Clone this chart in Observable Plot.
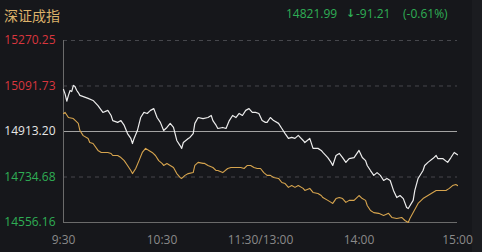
<!DOCTYPE html>
<html>
<head>
<meta charset="utf-8">
<script src="https://cdn.jsdelivr.net/npm/d3@7"></script>
<script src="https://cdn.jsdelivr.net/npm/@observablehq/plot@0.6"></script>
<style>
  html, body { margin:0; padding:0; }
  body { width:482px; height:252px; background:#16171b; position:relative; overflow:hidden; font-family:"Open Sans", "Noto Sans", sans-serif; }
  #panel { position:absolute; left:472px; top:0; width:10px; height:252px; background:#1b1c20; }
  #title { position:absolute; left:4px; top:5px; font-family:"Noto Sans CJK SC", sans-serif; font-size:14px; color:#dcb26a; line-height:20px; }
  .hd { position:absolute; top:5px; font-size:12px; color:#2fae55; line-height:18px; white-space:nowrap; }
  #chart { position:absolute; left:0; top:28px; }
</style>
</head>
<body>
<div id="panel"></div>
<div id="title"></div>
<span class="hd" id="last" style="left:286px"></span>
<span class="hd" id="arrow" style="left:346px;font-family:'DejaVu Sans';font-weight:bold;font-size:11px"></span>
<span class="hd" id="chg" style="left:356px"></span>
<span class="hd" id="pct" style="left:403px"></span>
<div id="chart"></div>
<script>
// ---- data ----
const titleText = "深证成指";
const lastPrice = "14821.99";
const changeText = "-91.21";
const pctText = "(-0.61%)";
const prevClose = 14913.20;
const yTicks = [15270.25, 15091.73, 14913.20, 14734.68, 14556.16];
const xTickMinutes = [0, 60, 120, 180, 240];
const xTickLabels = ["9:30", "10:30", "11:30/13:00", "14:00", "15:00"];

// index price (minute since open, value)
const priceMin = [0,1,2,3,4,5,6,7,8,9,10,15,18,21,24,27,29,30,33,35,37,39,41,42,43,45,47,49,51,53,55,57,59,61,63,65,67,69,71,72,73,76,77,79,80,82,85,88,90,91,93,94,97,99,101,103,105,107,109,111,113,115,117,119,121,123,124,126,128,131,133,135,137,139,141,143,146,147,150,152,155,157,158,161,163,164,166,168,170,172,174,177,180,182,184,185,187,189,191,193,195,197,199,201,203,205,207,209,210,213,214,216,219,220,222,225,227,228,231,234,236,238,240];
const priceVal = [15078,15060,15032,15055,15074,15070,15094,15090,15075,15066,15055,15043,15035,15015,14988,14996,14976,14956,14949,14956,14937,14905,14886,14866,14886,14917,14968,14988,14984,14996,15003,14968,14949,14917,14929,14945,14929,14878,14858,14847,14870,14886,14890,14905,14945,14968,14964,14968,14976,14956,14937,14925,14929,14925,14956,14976,14968,14984,14976,14996,15003,14988,14988,14984,14956,14949,14949,14968,14956,14945,14925,14905,14886,14890,14886,14898,14878,14870,14886,14847,14847,14839,14831,14811,14792,14780,14819,14827,14811,14792,14807,14811,14839,14811,14799,14780,14760,14741,14752,14741,14721,14729,14721,14682,14654,14662,14650,14615,14611,14643,14682,14729,14760,14780,14792,14807,14819,14807,14807,14792,14811,14831,14822];

// average price line (minute since open, value)
const avgMin = [0,1,3,6,9,10,12,15,16,18,21,23,24,27,29,30,33,35,37,39,41,42,44,46,48,50,52,54,56,58,60,61,63,65,67,69,71,72,74,76,79,80,82,85,86,88,91,93,94,97,100,102,104,106,108,110,112,114,116,118,120,122,124,126,128,131,133,135,137,139,141,143,146,147,150,152,155,157,158,161,163,164,166,168,170,172,174,177,180,182,184,185,187,189,192,195,198,200,203,206,208,210,211,213,216,219,222,224,227,230,233,235,237,239,240];
const avgVal = [14984,14988,14968,14964,14945,14917,14897,14886,14870,14866,14839,14831,14831,14831,14827,14819,14819,14811,14799,14780,14760,14748,14768,14799,14831,14847,14839,14831,14819,14799,14788,14780,14788,14780,14772,14748,14733,14729,14741,14748,14752,14780,14792,14788,14788,14780,14772,14760,14760,14752,14768,14772,14772,14772,14772,14768,14780,14780,14772,14768,14768,14752,14741,14741,14733,14729,14713,14709,14694,14701,14694,14701,14690,14682,14690,14674,14670,14662,14654,14643,14635,14631,14650,14654,14650,14635,14643,14643,14662,14650,14643,14623,14603,14595,14592,14584,14592,14576,14572,14576,14564,14556,14572,14595,14631,14650,14662,14670,14682,14682,14682,14690,14701,14705,14701];

// ---- build ----
const price = priceMin.map((m, i) => ({m, v: priceVal[i]}));
const avg = avgMin.map((m, i) => ({m, v: avgVal[i]}));
const xTicks = xTickMinutes.map((m, i) => ({m, label: xTickLabels[i]}));
const yMin = yTicks[yTicks.length - 1], yMax = yTicks[0];

document.getElementById("title").textContent = titleText;
document.getElementById("last").textContent = lastPrice;
document.getElementById("arrow").textContent = "↓";
document.getElementById("chg").textContent = changeText;
document.getElementById("pct").textContent = pctText;

const tickColor = d => d > prevClose + 0.001 ? "#d9363e" : d < prevClose - 0.001 ? "#2fae55" : "#e6e6e6";

const chart = Plot.plot({
  width: 482,
  height: 224,
  marginLeft: 63,
  marginRight: 25,
  marginTop: 12,
  marginBottom: 30,
  style: {background: "transparent", fontFamily: "'Open Sans', 'Noto Sans', sans-serif", fontSize: "12px", overflow: "visible"},
  x: {domain: [0, 240], axis: null},
  y: {domain: [yMin, yMax], axis: null},
  marks: [
    Plot.ruleY(yTicks.filter(d => d !== prevClose && d !== yMin), {stroke: "#46474c", strokeDasharray: "4,4"}),
    Plot.ruleY([prevClose], {stroke: "#a3a3a3"}),
    Plot.ruleY([yMin], {stroke: "#6b6b6b"}),
    Plot.ruleX([0], {stroke: "#6b6b6b"}),
    Plot.line(avg, {x: "m", y: "v", stroke: "#d6a44e", strokeWidth: 1.1}),
    Plot.line(price, {x: "m", y: "v", stroke: "#ececec", strokeWidth: 1.2}),
    Plot.text(yTicks, {x: () => 0, y: d => d, text: d => d.toFixed(2), textAnchor: "end", dx: -8, fill: tickColor}),
    Plot.text(xTicks, {x: "m", y: () => yMin, text: "label", dy: 18, fill: "#8a8a8a"})
  ]
});
document.getElementById("chart").appendChild(chart);
</script>
</body>
</html>
